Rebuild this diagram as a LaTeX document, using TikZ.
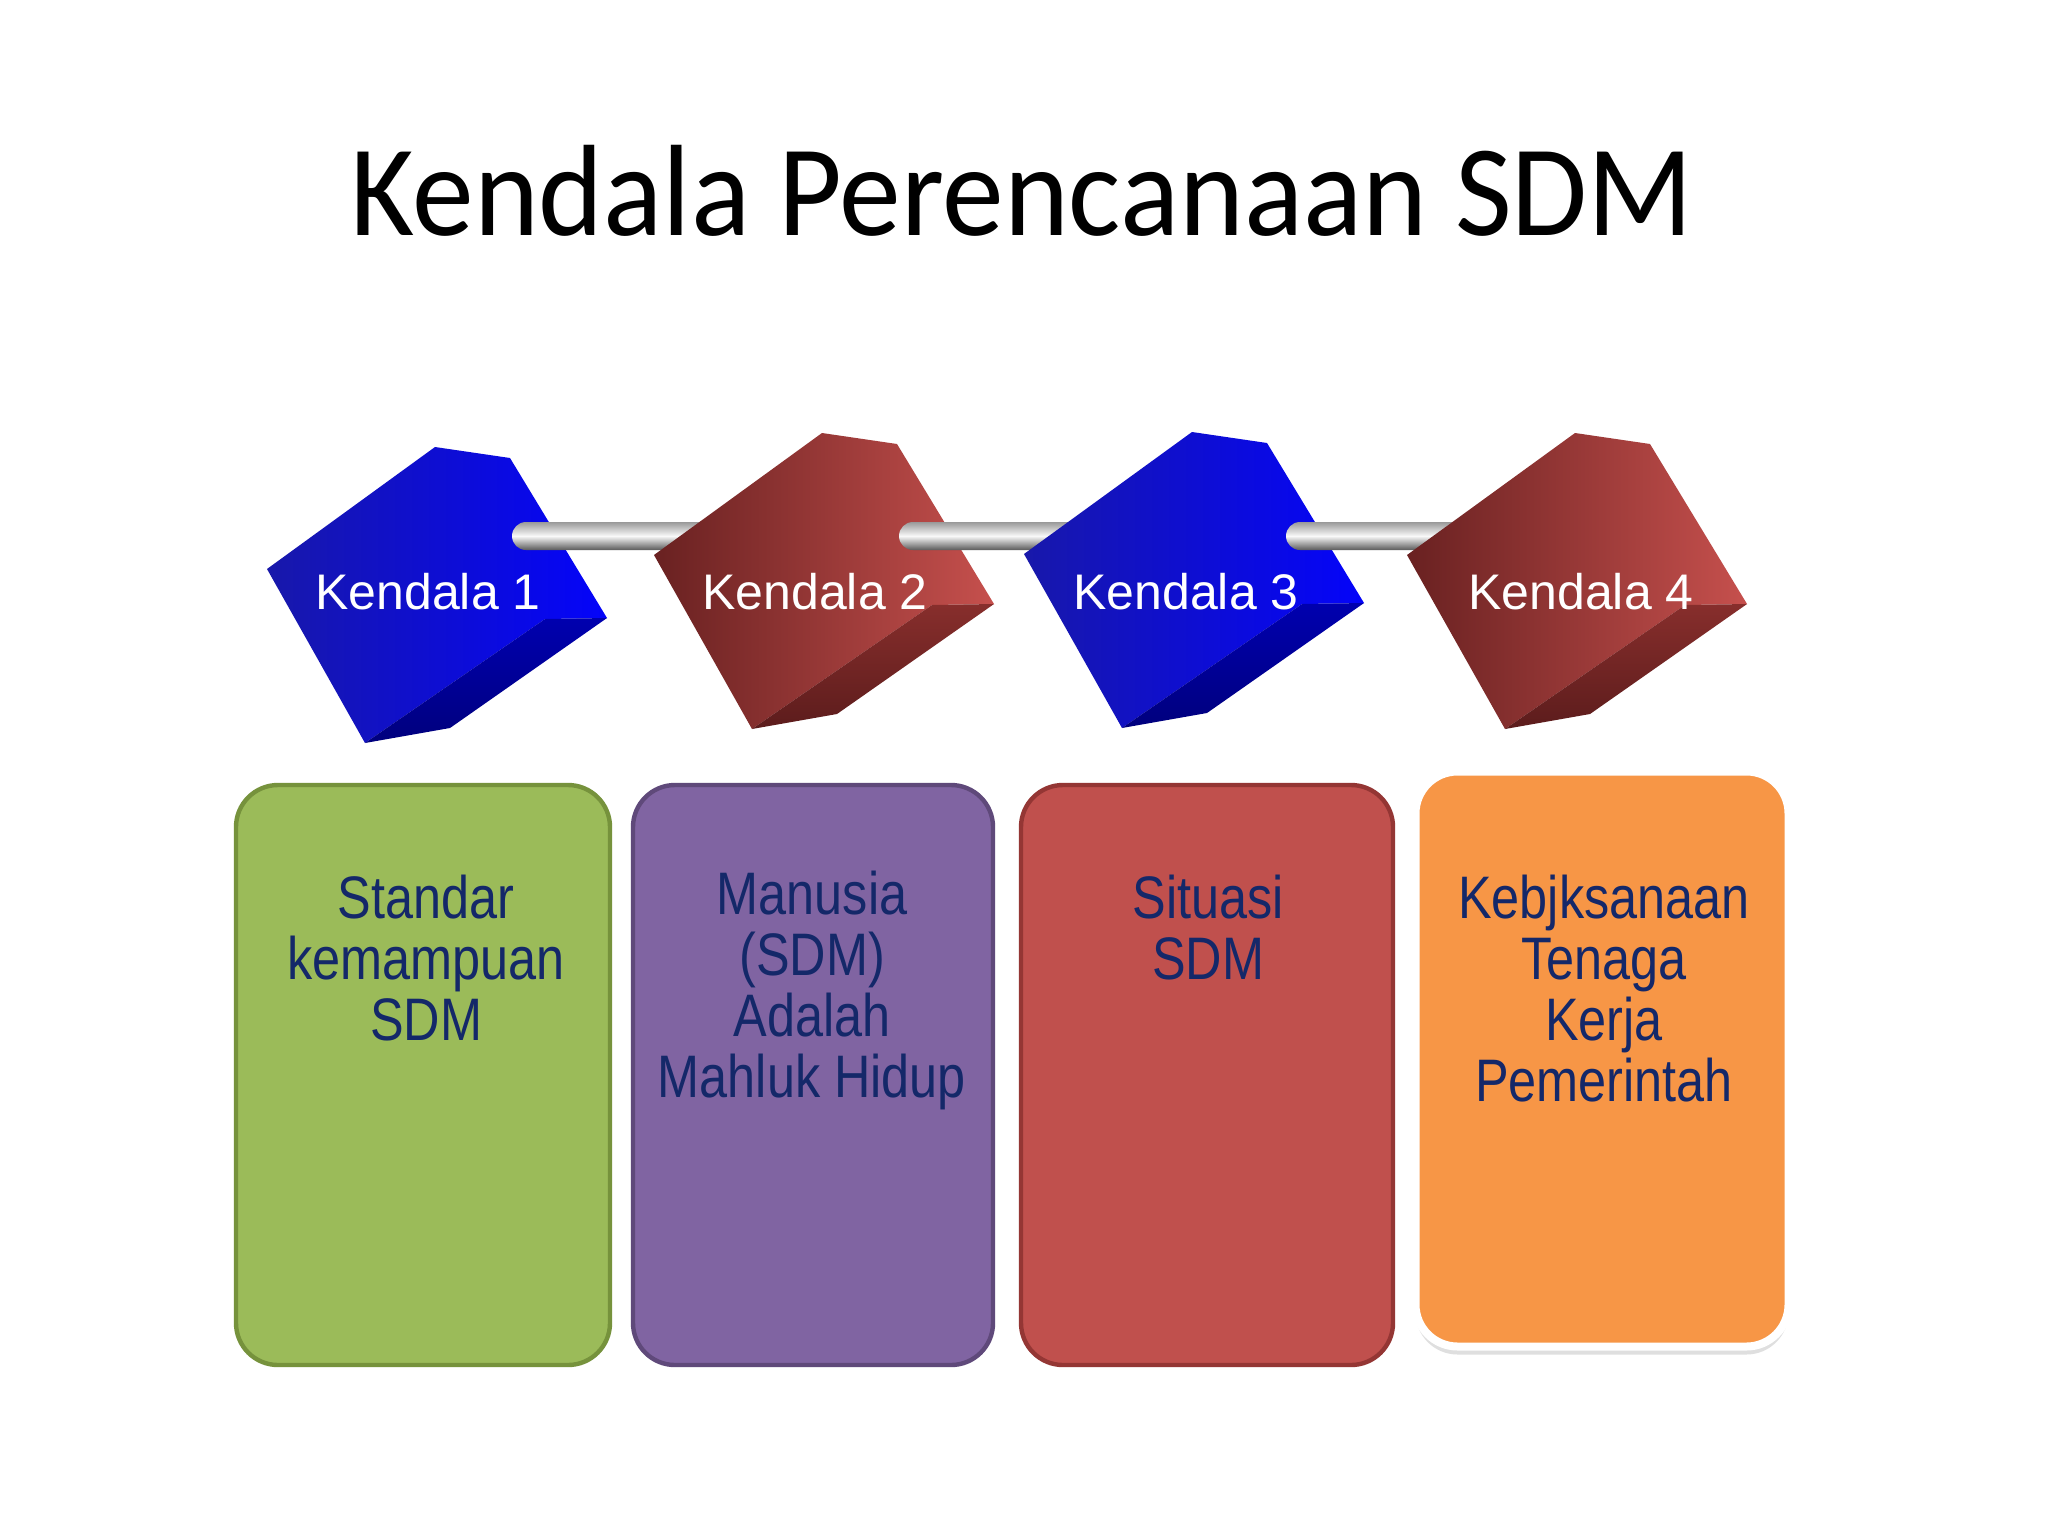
\documentclass[tikz,border=0pt]{standalone}
\usepackage{fontspec}
\setmainfont{Liberation Sans}
\newfontfamily\judulfont{Carlito}[FakeStretch=0.95]
\newfontfamily\isifont{Liberation Sans}[FakeStretch=0.84]
\usetikzlibrary{shadows}

\definecolor{hijau}{RGB}{155,187,89}
\definecolor{hijaugaris}{RGB}{118,146,60}
\definecolor{ungu}{RGB}{128,100,162}
\definecolor{ungugaris}{RGB}{95,73,122}
\definecolor{merah}{RGB}{192,80,77}
\definecolor{merahgaris}{RGB}{148,54,52}
\definecolor{oranye}{RGB}{247,150,70}
\definecolor{teksbiru}{RGB}{20,40,105}
\definecolor{birumukaA}{RGB}{24,24,170}
\definecolor{birumukaB}{RGB}{4,4,250}
\definecolor{birubawahA}{RGB}{0,0,175}
\definecolor{birubawahB}{RGB}{0,0,125}
\definecolor{merahmukaA}{RGB}{105,33,33}
\definecolor{merahmukaB}{RGB}{198,80,77}
\definecolor{merahbawahA}{RGB}{135,46,44}
\definecolor{merahbawahB}{RGB}{92,28,28}

\newcommand{\kubus}[3]{%
  \begin{scope}[shift={(#1,#2)}]
    \shade[left color=#3mukaA, right color=#3mukaB] (-168,122) -- (0,0) -- (75,11) -- (172,171) -- (110,172) -- (-70,296) -- cycle;
    \shade[top color=#3bawahA, bottom color=#3bawahB] (110,172) -- (172,171) -- (15,281) -- (-70,296) -- cycle;
  \end{scope}}

\tikzset{
  kotak/.style={rounded corners=21pt, minimum height=290pt, line width=2.2pt, inner sep=0pt},
  isi/.style={anchor=north, align=center, inner sep=0pt, text=teksbiru,
    font={\isifont\fontsize{30pt}{30.5pt}\selectfont}},
  label/.style={text=white, inner sep=0pt, font={\fontsize{25pt}{29pt}\selectfont}},
  batang/.style={top color=gray!80, bottom color=gray!70!black, middle color=white!95!gray, rounded corners=7pt}
}

\begin{document}
\begin{tikzpicture}[x=0.5pt, y=-0.5pt]
\fill[white] (0,0) rectangle (2048,1536);
\useasboundingbox (0,0) rectangle (2048,1536);

\node[anchor=base, inner sep=0pt, font={\judulfont\fontsize{65pt}{78pt}\selectfont}] (judul) at (1022,235) {Kendala Perencanaan SDM};

\kubus{435}{447}{biru}
\shade[batang] (512,522) rectangle (720,550);
\kubus{822}{433}{merah}
\shade[batang] (899,522) rectangle (1100,550);
\kubus{1192}{432}{biru}
\shade[batang] (1286,522) rectangle (1480,550);
\kubus{1575}{433}{merah}

\node[label] (k1) at (428,592) {Kendala 1};
\node[label] (k2) at (815,592) {Kendala 2};
\node[label] (k3) at (1186,592) {Kendala 3};
\node[label] (k4) at (1581,592) {Kendala 4};

\node[kotak, fill=hijau, draw=hijaugaris, minimum width=187pt] (b1) at (423,1075) {};
\node[kotak, fill=ungu, draw=ungugaris, minimum width=180pt] (b2) at (813,1075) {};
\node[kotak, fill=merah, draw=merahgaris, minimum width=186pt] (b3) at (1207,1075) {};
\node[kotak, fill=oranye, draw=white, line width=4pt, minimum width=186.5pt, minimum height=287.5pt,
  drop shadow={shadow xshift=0pt, shadow yshift=-4pt, opacity=0.25}] (b4) at (1602,1059) {};

\node[isi] (t1) at (426,875) {Standar\\kemampuan\\SDM};
\node[isi] (t2) at (812,871) {Manusia\\(SDM)\\Adalah\\Mahluk Hidup};
\node[isi] (t3) at (1208,875) {Situasi\\SDM};
\node[isi] (t4) at (1604,875) {Kebjksanaan\\Tenaga\\Kerja\\Pemerintah};
\end{tikzpicture}
\end{document}
